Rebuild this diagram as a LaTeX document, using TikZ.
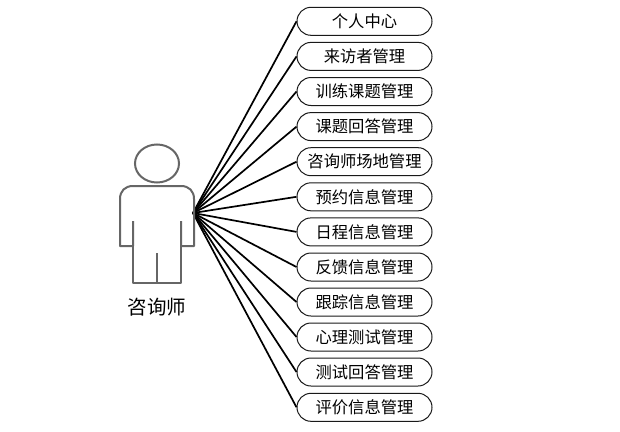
\documentclass[tikz,border=0pt]{standalone}
\usepackage{fontspec}
\newfontfamily\cjk{Noto Sans CJK SC}
\usetikzlibrary{shapes.misc,shapes.geometric}
\tikzset{
  x=1pt,y=-1pt,
  pill/.style={draw=black!90,line width=1pt,rounded rectangle,minimum width=135pt,minimum height=28pt,inner sep=0pt,font=\cjk\fontsize{16.3}{18}\selectfont,text=black},
  link/.style={draw=black,line width=1.7pt},
  figure/.style={draw=black!60,line width=2pt,line join=round}
}
\begin{document}
\begin{tikzpicture}
\useasboundingbox (0,0) rectangle (620,431);
\coordinate (hub) at (193,213);
\foreach \n/\y/\t in {a/21.3/个人中心,b/56.4/来访者管理,c/91.5/训练课题管理,d/126.6/课题回答管理,e/161.7/咨询师场地管理,f/196.8/预约信息管理,g/231.9/日程信息管理,h/267/反馈信息管理,i/302/跟踪信息管理,j/337/心理测试管理,k/372/测试回答管理,l/407.3/评价信息管理}{
  \node[pill] (\n) at (364.5,\y) {\t};
  \draw[link] (hub) -- (\n.west);
}
\node[draw=black!60,line width=2pt,ellipse,minimum width=44pt,minimum height=38pt,inner sep=0pt] (head) at (157,163.5) {};
\draw[figure] (133,221) -- (133,246) -- (120,246) -- (120,199) .. controls (120,191) and (125,186) .. (133,186) -- (181,186) .. controls (189,186) and (194,191) .. (194,199) -- (194,246) -- (181,246) -- (181,221);
\draw[figure] (133,246) -- (133,283) -- (181,283) -- (181,246);
\draw[figure] (157,253) -- (157,283);
\node[font=\cjk\fontsize{19.5}{22}\selectfont,text=black] (name) at (157,307) {咨询师};
\end{tikzpicture}
\end{document}
